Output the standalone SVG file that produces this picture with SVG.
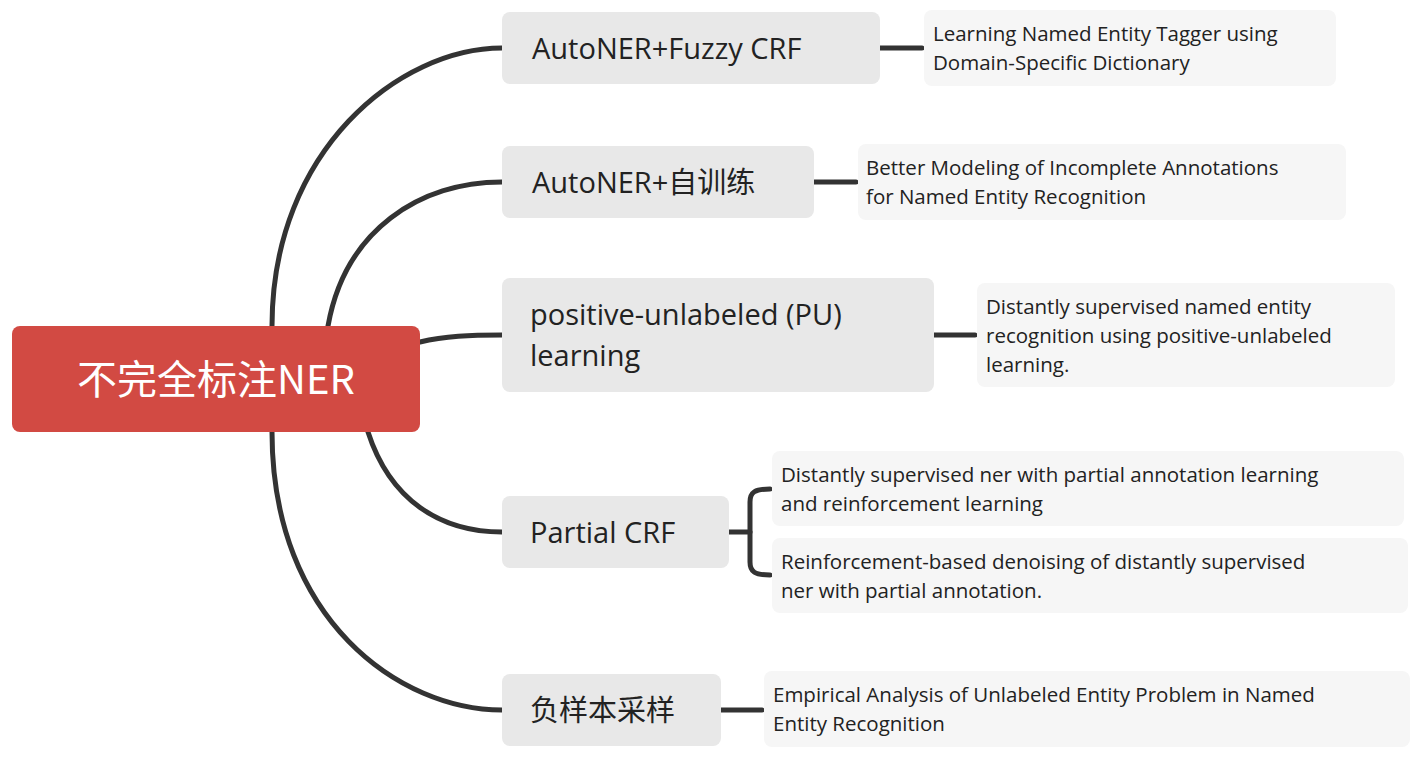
<svg xmlns="http://www.w3.org/2000/svg" width="1412" height="781" viewBox="0 0 1412 781">
<style>
.b{fill:#e8e8e8}
.l{fill:#f6f6f6}
.bt{font-family:"Open Sans","Noto Sans CJK SC",sans-serif;font-size:29px;fill:#222}
.lt{font-family:"Open Sans","Noto Sans CJK SC",sans-serif;font-size:20.5px;fill:#222}
.c{fill:none;stroke:#333;stroke-width:5;stroke-linecap:round}
</style>
<rect width="1412" height="781" fill="#fff"/>
<g id="connectors">
<path class="c" d="M272,326 C272,150 400,48 502,48"/>
<path class="c" d="M328,326 C345,230 420,182 502,182"/>
<path class="c" d="M420,342 C445,336 470,335 502,335"/>
<path class="c" d="M368,432 C390,500 440,532 502,532"/>
<path class="c" d="M272,432 C272,620 400,710 502,710"/>
<path class="c" d="M880,48 H922"/>
<path class="c" d="M814,182 H856"/>
<path class="c" d="M934,335 H975"/>
<path class="c" d="M721,710 H762"/>
<path class="c" d="M729,532 H750"/>
<path class="c" d="M770,489 C755,489 750,492 750,502 V562 C750,572 755,575 770,575"/>
</g>
<g id="root"><rect x="12" y="326" width="408" height="106" rx="8" fill="#d24a43"/>
<text x="216" y="394" text-anchor="middle" font-family="'Noto Sans CJK SC',sans-serif" font-size="40" fill="#fff">不完全标注NER</text></g>
<g id="n1"><rect class="b" x="502" y="12" width="378" height="72" rx="8"/><text class="bt" x="532" y="59">AutoNER+Fuzzy CRF</text></g>
<g id="n2"><rect class="b" x="502" y="146" width="312" height="72" rx="8"/><text class="bt" x="532" y="193">AutoNER+自训练</text></g>
<g id="n3"><rect class="b" x="502" y="278" width="432" height="114" rx="8"/><text class="bt" x="530" y="325">positive-unlabeled (PU)</text><text class="bt" x="530" y="366">learning</text></g>
<g id="n4"><rect class="b" x="502" y="496" width="227" height="72" rx="8"/><text class="bt" x="530" y="543">Partial CRF</text></g>
<g id="n5"><rect class="b" x="502" y="674" width="219" height="72" rx="8"/><text class="bt" x="530" y="721">负样本采样</text></g>
<g id="l1"><rect class="l" x="924" y="10" width="412" height="76" rx="8"/><text class="lt" x="933" y="41">Learning Named Entity Tagger using</text><text class="lt" x="933" y="70">Domain-Specific Dictionary</text></g>
<g id="l2"><rect class="l" x="858" y="144" width="488" height="76" rx="8"/><text class="lt" x="866" y="175">Better Modeling of Incomplete Annotations</text><text class="lt" x="866" y="204">for Named Entity Recognition</text></g>
<g id="l3"><rect class="l" x="977" y="283" width="418" height="104" rx="8"/><text class="lt" x="986" y="314">Distantly supervised named entity</text><text class="lt" x="986" y="343">recognition using positive-unlabeled</text><text class="lt" x="986" y="372">learning.</text></g>
<g id="l4a"><rect class="l" x="772" y="451" width="632" height="75" rx="8"/><text class="lt" x="781" y="482">Distantly supervised ner with partial annotation learning</text><text class="lt" x="781" y="511">and reinforcement learning</text></g>
<g id="l4b"><rect class="l" x="772" y="538" width="636" height="75" rx="8"/><text class="lt" x="781" y="569">Reinforcement-based denoising of distantly supervised</text><text class="lt" x="781" y="598">ner with partial annotation.</text></g>
<g id="l5"><rect class="l" x="764" y="671" width="646" height="76" rx="8"/><text class="lt" x="773" y="702">Empirical Analysis of Unlabeled Entity Problem in Named</text><text class="lt" x="773" y="731">Entity Recognition</text></g>
</svg>
